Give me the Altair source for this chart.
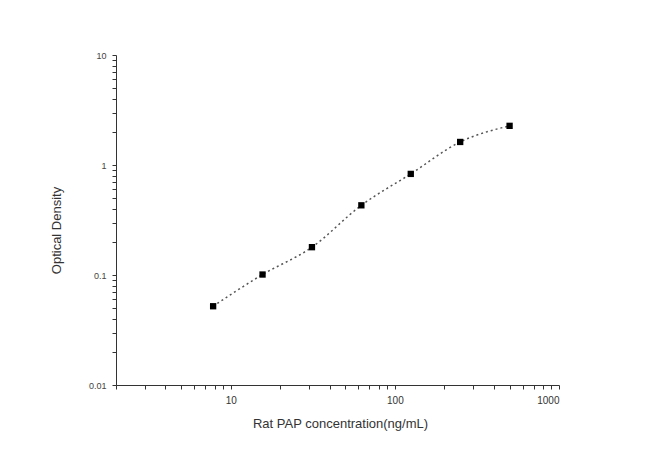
import altair as alt
import pandas as pd

conc = [7.8125, 15.625, 31.25, 62.5, 125, 250, 500]
od = [0.052, 0.101, 0.179, 0.43, 0.83, 1.62, 2.27]

x_ticks = [2, 3, 4, 5, 6, 7, 8, 9, 10, 20, 30, 40, 50, 60, 70, 80, 90,
           100, 200, 300, 400, 500, 600, 700, 800, 900, 1000]
y_ticks = [0.01, 0.02, 0.03, 0.04, 0.05, 0.06, 0.07, 0.08, 0.09,
           0.1, 0.2, 0.3, 0.4, 0.5, 0.6, 0.7, 0.8, 0.9,
           1, 2, 3, 4, 5, 6, 7, 8, 9, 10]
x_major = [10, 100, 1000]
y_major = [0.01, 0.1, 1, 10]

df = pd.DataFrame({"conc": conc, "od": od})

font = "Liberation Sans"

x_enc = alt.X(
    "conc:Q",
    scale=alt.Scale(type="log", domain=[2, 1000], nice=False),
    axis=alt.Axis(
        values=x_ticks,
        labelExpr="indexof(%s, datum.value) >= 0 ? datum.label : ''" % str(x_major),
        format="~g",
        grid=False,
        tickSize=4,
        tickColor="#333",
        domainColor="#333",
        labelColor="#333",
        labelFont=font,
        labelFontSize=10,
        labelPadding=6,
        title="Rat PAP concentration(ng/mL)",
        titleFont=font,
        titleFontSize=13,
        titleFontWeight="normal",
        titleColor="#333",
        titleX=224,
        titleY=38,
        titleBaseline="middle",
        titleAlign="center",
    ),
)
y_enc = alt.Y(
    "od:Q",
    scale=alt.Scale(type="log", domain=[0.01, 10], nice=False),
    axis=alt.Axis(
        values=y_ticks,
        labelExpr="indexof(%s, datum.value) >= 0 ? datum.label : ''" % str(y_major),
        format="~g",
        grid=False,
        tickSize=4,
        tickColor="#333",
        domainColor="#333",
        labelColor="#444",
        labelFont=font,
        labelFontSize=9,
        labelPadding=6,
        title="Optical Density",
        titleFont=font,
        titleFontSize=13,
        titleFontWeight="normal",
        titleColor="#333",
        titleX=-60,
        titleY=175,
        titleAngle=270,
        titleBaseline="middle",
        titleAlign="center",
    ),
)

line = alt.Chart(df).mark_line(
    interpolate="monotone", color="#555", strokeDash=[2, 3], strokeWidth=1.5
).encode(x=x_enc, y=y_enc)

points = alt.Chart(df).mark_square(size=40, color="black", opacity=1).encode(
    x="conc:Q", y="od:Q"
)

chart = (
    (line + points)
    .properties(
        width=443,
        height=330,
        autosize=alt.AutoSizeParams(type="none"),
        padding={"left": 108, "top": 47, "right": 83, "bottom": 67},
        background="white",
    )
    .configure_view(stroke=None)
)

chart.save("out.html", embed_options={"renderer": "svg", "actions": False})
